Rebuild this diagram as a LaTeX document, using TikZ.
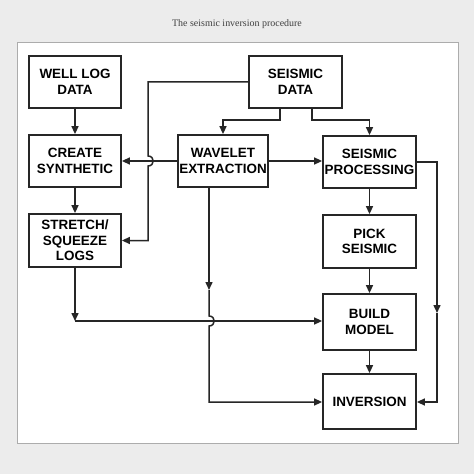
\documentclass[tikz,border=0pt]{standalone}
\usepackage{fontspec}
\setmainfont{Liberation Serif}
\newfontfamily\boxfont{Liberation Sans}
\usetikzlibrary{arrows.meta,calc}
\begin{document}
\begin{tikzpicture}[x=1bp,y=-1bp,
  box/.style={draw=black!85, line width=1.8bp, fill=white, minimum width=92bp,
    minimum height=52bp, align=center, inner sep=0pt,
    font=\boxfont\bfseries\fontsize{13.5}{15.5}\selectfont},
  conn/.style={draw=black!85, line width=1.5bp},
  tip/.style={conn, -{Triangle[length=8bp,width=7bp]}}]
\useasboundingbox (0,0) rectangle (474,474);
\fill[gray!15] (0,0) rectangle (474,474);
\draw[gray!65, line width=1bp, fill=white] (17,43) rectangle (458,443);
\node[text=black!75] (title) at (237,24) {\fontsize{10}{12}\selectfont The seismic inversion procedure};

\node[box] (wl) at (75,82) {WELL LOG\\DATA};
\node[box, minimum width=93bp] (sd) at (295.5,82) {SEISMIC\\DATA};
\node[box] (cs) at (75,161) {CREATE\\SYNTHETIC};
\node[box, minimum width=90bp] (we) at (223,161) {WAVELET\\EXTRACTION};
\node[box, minimum width=93bp] (sp) at (369.5,162) {SEISMIC\\PROCESSING};
\node[box, minimum height=53bp] (ss) at (75,240.5) {STRETCH/\\SQUEEZE\\LOGS};
\node[box, minimum width=93bp, minimum height=53bp] (ps) at (369.5,241.5) {PICK\\SEISMIC};
\node[box, minimum width=93bp, minimum height=56bp] (bm) at (369.5,322) {BUILD\\MODEL};
\node[box, minimum width=93bp, minimum height=55bp] (inv) at (369.5,401.5) {INVERSION};

% vertical chains
\draw[tip] (wl) -- (cs);
\draw[tip] (cs) -- (ss);
\draw[tip] (sp) -- (ps);
\draw[tip] (ps) -- (bm);
\draw[tip] (bm) -- (inv);

% seismic data outputs
\coordinate (b1) at (280,120);
\draw[tip] (sd.south -| b1) -- (b1) -- (we.north |- b1) -- (we.north);
\coordinate (c1) at (312,120);
\draw[tip] (sd.south -| c1) -- (c1) -- (sp.north |- c1) -- (sp.north);
\coordinate (a1) at (148,82);
\coordinate (a2) at (148,156);
\coordinate (a3) at (148,166);
\coordinate (a4) at (148,240.5);
\draw[tip] (sd.west) -- (a1) -- (a2) .. controls +(7,0) and +(7,0) .. (a3) -- (a4) -- (ss.east);

% wavelet outputs
\draw[tip] (we.west) -- (cs.east);
\draw[tip] (we.east) -- (we.east -| sp.west);
\coordinate (e1) at (209,290);
\coordinate (e2) at (209,316);
\coordinate (e3) at (209,326);
\coordinate (e4) at (209,402);
\draw[tip] (we.south -| e1) -- (e1);
\draw[tip] (e1) -- (e2) .. controls +(7,0) and +(7,0) .. (e3) -- (e4) -- (e4 -| inv.west);

% stretch to build
\coordinate (d1) at (75,321);
\draw[tip] (ss.south) -- (d1);
\draw[tip] (d1) -- (d1 -| bm.west);

% processing to inversion
\coordinate (f1) at (437,162);
\coordinate (f2) at (437,313);
\coordinate (f3) at (437,402);
\draw[tip] (sp.east) -- (f1) -- (f2);
\draw[tip] (f2) -- (f3) -- (f3 -| inv.east);
\end{tikzpicture}
\end{document}
